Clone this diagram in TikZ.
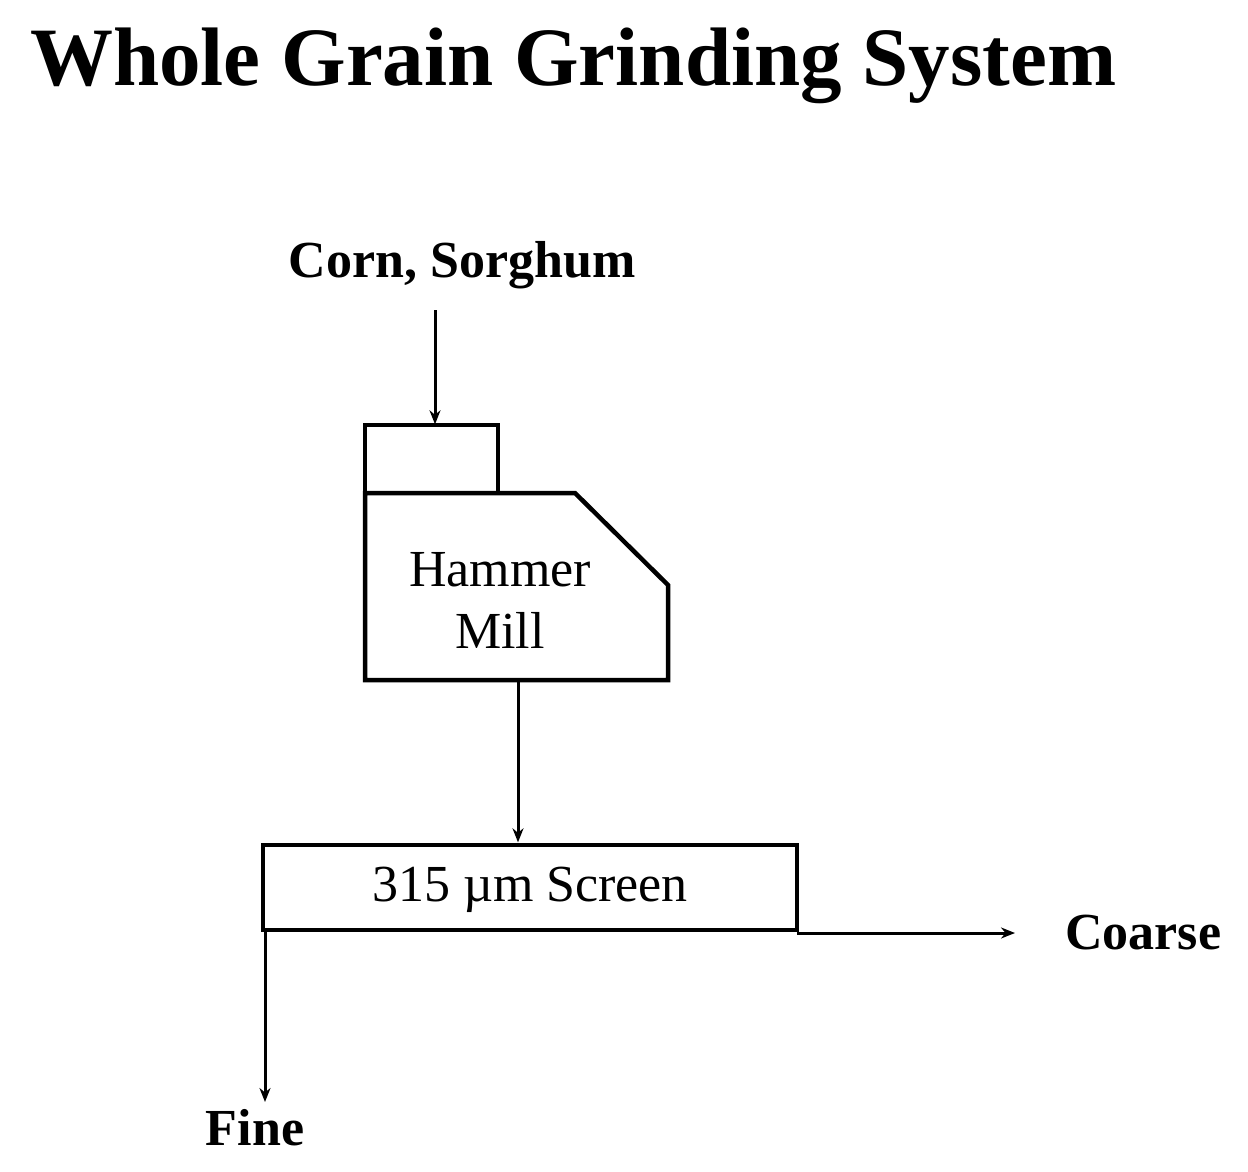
\documentclass[tikz,border=0pt]{standalone}
\usepackage{fontspec}
\setmainfont{Liberation Serif}
\usetikzlibrary{arrows.meta}
\begin{document}
\begin{tikzpicture}[x=1pt,y=-1pt,
  box/.style={draw,line width=4.5pt},
  flow/.style={line width=3pt,-{Stealth[length=14pt,width=11pt]}},
  lbl/.style={font=\fontsize{52}{58}\selectfont\bfseries,inner sep=0pt},
  txt/.style={font=\fontsize{52}{62}\selectfont,inner sep=0pt,align=center}]
\useasboundingbox (0,0) rectangle (1248,1171);
\node[font=\fontsize{83}{88}\selectfont\bfseries,anchor=base west,inner sep=0pt] (title) at (30,85) {Whole Grain Grinding System};
\node[lbl] (corn) at (462,265) {Corn, Sorghum};
\coordinate (cin) at (435,310);
\draw[box] (365,425) rectangle (498,493);
\node[inner sep=0pt] (hop) at (435,425) {};
\draw[box] (365,493) -- (575,493) -- (668,585) -- (668,680) -- (365,680) -- cycle;
\node[txt] (mill) at (500,600) {Hammer\\Mill};
\node[inner sep=0pt] (millb) at (518,680) {};
\draw[flow] (cin) -- (hop);
\draw[box] (263,845) rectangle (797,930);
\node[txt] (scr) at (530,890) {315 µm Screen};
\node[inner sep=0pt] (scrt) at (518,843) {};
\draw[flow] (millb) -- (scrt);
\coordinate (sr) at (797,933);
\coordinate (sl) at (265,930);
\node[lbl,anchor=west] (coarse) at (1065,933) {Coarse};
\node[lbl] (fine) at (255,1128) {Fine};
\draw[flow] (sr) -- (1015,933) coordinate (ce);
\draw[flow] (sl) -- (265,1102) coordinate (fe);
\end{tikzpicture}
\end{document}
